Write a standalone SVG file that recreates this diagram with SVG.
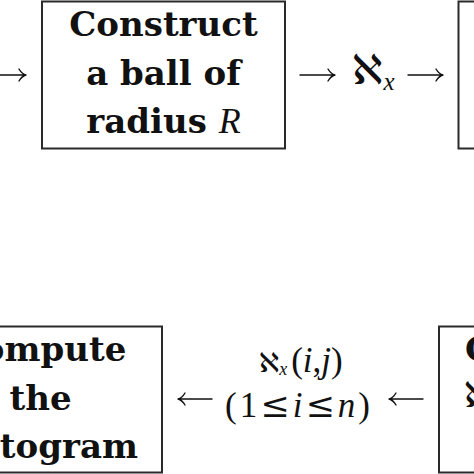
<svg xmlns="http://www.w3.org/2000/svg" width="474" height="474" viewBox="0 0 474 474">
<style>
.box{fill:#fff;stroke:#2a2a2a;stroke-width:2}
.t{font-family:"DejaVu Serif","Liberation Serif",serif;font-weight:bold;font-size:34px;fill:#111;text-anchor:middle}
.m{font-family:"Liberation Serif","DejaVu Serif",serif;font-size:35px;fill:#111}
.al{font-family:"DejaVu Serif","DejaVu Sans",serif;font-style:normal;font-weight:normal}
.le{font-family:"DejaVu Serif",serif;font-weight:normal}
.mi{font-style:italic}
.arr{fill:none;stroke:#111;stroke-width:1.4;stroke-linecap:round}
</style>
<rect width="474" height="474" fill="#fff"/>
<g id="n-ball">
<rect class="box" x="42" y="1.5" width="243" height="147"/>
<text class="t" x="163.5" y="36">Construct</text>
<text class="t" x="163.5" y="85">a ball of</text>
<text class="t" x="163.5" y="133">radius <tspan font-family="Liberation Serif" font-style="italic" font-weight="normal" font-size="36">R</tspan></text>
</g>
<g id="n-right-top">
<rect class="box" x="458.5" y="1.5" width="243" height="147"/>
</g>
<g id="n-hist">
<rect class="box" x="-81" y="326.5" width="243" height="146"/>
<text class="t" x="40.5" y="361">Compute</text>
<text class="t" x="40.5" y="410">the</text>
<text class="t" x="40.5" y="458">histogram</text>
</g>
<g id="n-right-bottom">
<rect class="box" x="439" y="326.5" width="243" height="146"/>
<text class="t" x="465" y="361" style="text-anchor:start">Compute</text>
<text class="m al" x="464" y="407" font-size="40">ℵ</text>
</g>
<g id="labels">
<text class="m" x="352" y="84"><tspan class="al" font-size="41">ℵ</tspan><tspan class="mi" font-size="25" dy="6" dx="1">x</tspan></text>
<text class="m" x="259" y="372" font-size="24"><tspan class="al" font-size="27">ℵ</tspan><tspan class="mi" font-size="18" dy="3">x</tspan><tspan dy="-3" dx="4">(<tspan class="mi">i</tspan>,<tspan class="mi">j</tspan>)</tspan></text>
<text class="m" x="225" y="417" font-size="40" textLength="145" lengthAdjust="spacing">(1<tspan class="le">≤</tspan><tspan class="mi">i</tspan><tspan class="le">≤</tspan><tspan class="mi">n</tspan>)</text>
</g>
<g id="connectors">
<path class="arr" d="M0 75H26M19 69Q22 74 26 75Q22 76 19 81"/>
<path class="arr" d="M300 75H335M328 69Q331 74 335 75Q331 76 328 81"/>
<path class="arr" d="M408 75H443M436 69Q439 74 443 75Q439 76 436 81"/>
<path class="arr" d="M212 399H178M185 393Q182 398 178 399Q182 400 185 405"/>
<path class="arr" d="M423 399H389M396 393Q393 398 389 399Q393 400 396 405"/>
</g>
</svg>
